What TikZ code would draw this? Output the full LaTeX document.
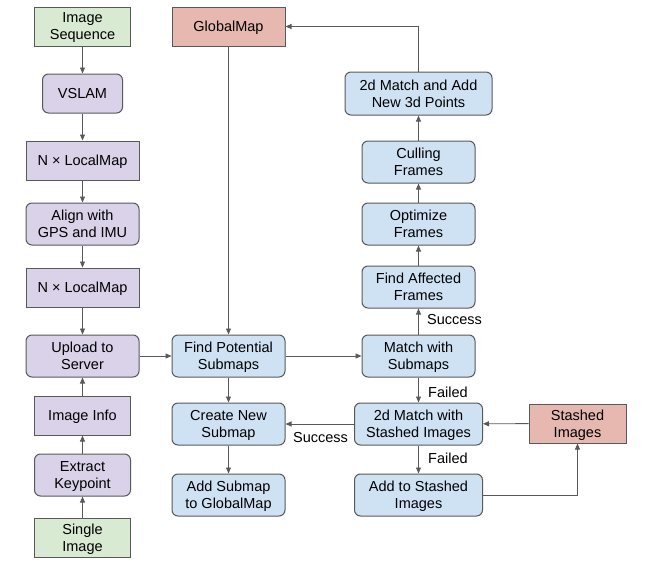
\documentclass[tikz,border=0pt]{standalone}
\usepackage{fontspec}
\setmainfont{Liberation Sans}
\usetikzlibrary{arrows.meta}
\definecolor{bord}{HTML}{595959}
\definecolor{cgreen}{HTML}{D9EAD3}
\definecolor{cpurple}{HTML}{D9D2E9}
\definecolor{cblue}{HTML}{CFE2F3}
\definecolor{cred}{HTML}{E6B8AF}
\begin{document}
\begin{tikzpicture}[x=1pt,y=-1pt,
  box/.style={draw=bord, line width=1pt, align=center, inner sep=0pt,
    font=\fontsize{14.5}{17}\selectfont, text=black, text depth=0pt},
  rbox/.style={box, rounded corners=6pt},
  green/.style={box, fill=cgreen},
  purp/.style={box, fill=cpurple},
  rpurp/.style={rbox, fill=cpurple},
  rblue/.style={rbox, fill=cblue},
  red/.style={box, fill=cred},
  conn/.style={draw=bord, line width=0.9pt, -{Triangle[length=6pt,width=5pt]}},
  lab/.style={font=\fontsize{14.5}{17}\selectfont, inner sep=0pt, anchor=west}
]
\useasboundingbox (0,0) rectangle (657,563);
% left column
\node[green, minimum width=96, minimum height=39] (seq) at (82.5,26.5) {Image\\Sequence};
\node[rpurp, minimum width=80, minimum height=39] (vslam) at (82.5,93.5) {VSLAM};
\node[purp, minimum width=113, minimum height=39] (lm1) at (82.5,160.5) {N × LocalMap};
\node[rpurp, minimum width=113, minimum height=42] (align) at (82.5,224) {Align with\\GPS and IMU};
\node[purp, minimum width=113, minimum height=39] (lm2) at (82.5,287.5) {N × LocalMap};
\node[rpurp, minimum width=113, minimum height=42] (upload) at (82.5,356) {Upload to\\Server};
\node[purp, minimum width=96, minimum height=39] (info) at (82.5,415.5) {Image Info};
\node[rpurp, minimum width=96, minimum height=42] (extract) at (82.5,475) {Extract\\Keypoint};
\node[green, minimum width=96, minimum height=39] (single) at (82.5,537.5) {Single\\Image};
% middle column
\node[red, minimum width=113, minimum height=39] (global) at (228.5,26.5) {GlobalMap};
\node[rblue, minimum width=113, minimum height=42] (findpot) at (228.5,356) {Find Potential\\Submaps};
\node[rblue, minimum width=113, minimum height=42] (create) at (228.5,424) {Create New\\Submap};
\node[rblue, minimum width=113, minimum height=42] (addsub) at (228.5,495) {Add Submap\\to GlobalMap};
% right column
\node[rblue, minimum width=147, minimum height=43] (m2d3d) at (418.5,93.5) {2d Match and Add\\New 3d Points};
\node[rblue, minimum width=113, minimum height=42] (cull) at (418.5,162) {Culling\\Frames};
\node[rblue, minimum width=113, minimum height=42] (opt) at (418.5,224) {Optimize\\Frames};
\node[rblue, minimum width=113, minimum height=42] (aff) at (418.5,287) {Find Affected\\Frames};
\node[rblue, minimum width=113, minimum height=42] (msub) at (418.5,356) {Match with\\Submaps};
\node[rblue, minimum width=128, minimum height=42] (stm) at (418.5,424) {2d Match with\\Stashed Images};
\node[rblue, minimum width=128, minimum height=42] (addst) at (418.5,495) {Add to Stashed\\Images};
\node[red, minimum width=97, minimum height=39] (stash) at (577.5,423.5) {Stashed\\Images};
% connectors
\draw[conn] (seq) -- (vslam);
\draw[conn] (vslam) -- (lm1);
\draw[conn] (lm1) -- (align);
\draw[conn] (align) -- (lm2);
\draw[conn] (lm2) -- (upload);
\draw[conn] (single) -- (extract);
\draw[conn] (extract) -- (info);
\draw[conn] (info) -- (upload);
\draw[conn] (upload) -- (findpot);
\draw[conn] (global) -- (findpot);
\draw[conn] (findpot) -- (msub);
\draw[conn] (findpot) -- (create);
\draw[conn] (create) -- (addsub);
\draw[conn] (msub) -- (aff);
\draw[conn] (aff) -- (opt);
\draw[conn] (opt) -- (cull);
\draw[conn] (cull) -- (m2d3d);
\draw[conn] (m2d3d.north) |- (global.east);
\draw[conn] (msub) -- (stm);
\draw[conn] (stm) -- (create);
\draw[conn] (stash) -- (stm);
\draw[conn] (stm) -- (addst);
\draw[conn] (addst.east) -| (stash.south);
% labels
\node[lab] (l1) at (427,320) {Success};
\node[lab] (l2) at (428,392) {Failed};
\node[lab] (l3) at (293,438) {Success};
\node[lab] (l4) at (428,458) {Failed};
\end{tikzpicture}
\end{document}
